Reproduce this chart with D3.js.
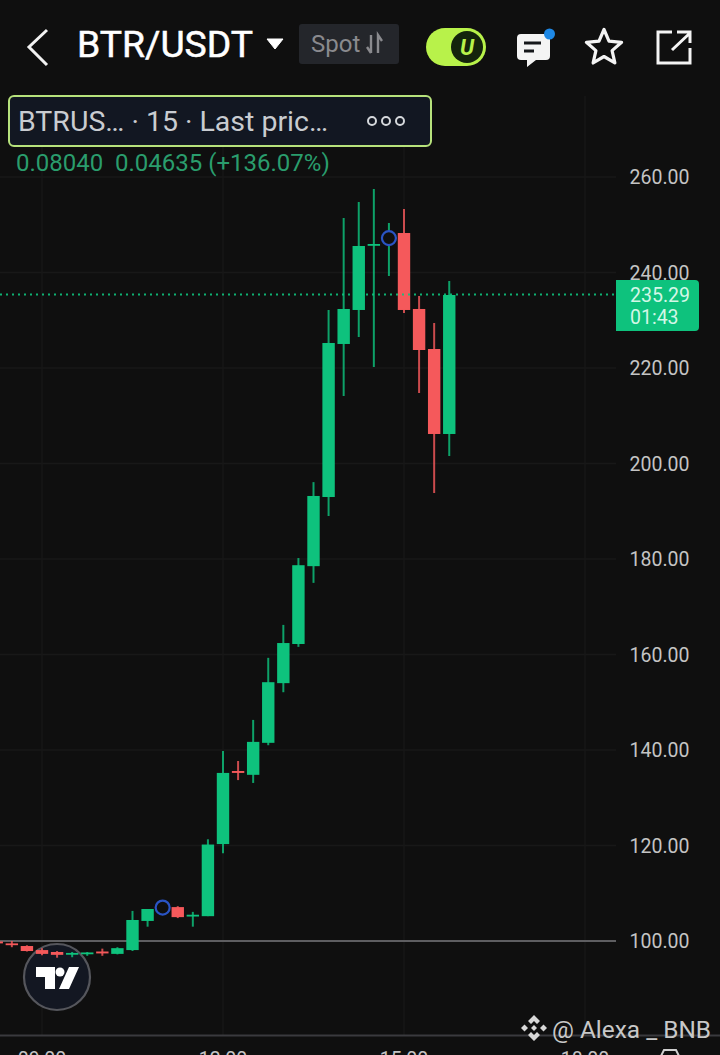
<!DOCTYPE html>
<html><head><meta charset="utf-8">
<script src="https://cdn.jsdelivr.net/npm/d3@7/dist/d3.min.js"></script>
<style>html,body{margin:0;padding:0;background:#0f0f0f;overflow:hidden}svg{display:block}text{font-family:Roboto,sans-serif}</style>
</head><body><svg id="c" width="720" height="1055"></svg>
<script>
const slots = d3.range(-3, 28);
const opens  = [99.9,99.5,98.95,98.1,97.7,97.2,97.4,97.8,97.3,98.1,104.2,107.0,107.1,105.2,105.2,120.3,135.6,134.8,141.5,154.0,162.2,178.5,192.98,225.03,232.15,245.7,247.0,248.27,232.36,223.98,206.18];
const closes = [99.5,99.2,97.9,97.3,97.1,97.5,97.6,97.4,98.5,104.4,106.7,107.3,105.0,105.5,120.2,135.2,135.2,141.7,154.2,162.4,178.7,193.2,225.24,232.36,245.55,245.97,247.4,232.15,223.77,206.18,235.29];
const highs  = [100.2,100.0,99.1,98.5,97.9,97.7,97.7,98.4,98.7,106.3,106.7,107.5,107.3,106.1,121.3,139.8,137.7,146.3,159.3,166.2,180.2,196.1,232.15,251.41,254.77,257.49,250.37,253.3,235.08,229.42,238.22];
const lows   = [99.0,98.7,97.8,97.0,96.5,96.6,96.9,96.9,97.2,97.9,103.0,106.8,104.8,103.0,105.2,118.4,133.7,133.1,141.0,152.1,161.6,175.0,189.0,214.14,226.49,220.21,239.27,231.5,214.76,193.82,201.57];
const priceTicks = [100,120,140,160,180,200,220,240,260];
const timeSlots = [0,12,24,36];
const timeLabels = ["09:00","12:00","15:00","18:00"];
const lastPrice = 235.29, basePrice = 100;
const markerSlots = [8,23];
const markerPrices = [107,247.2];

const up="#0ec27d", down="#f5595b", bg="#0f0f0f";
const svg=d3.select("#c");
svg.append("rect").attr("width",720).attr("height",1055).attr("fill",bg);
const y=d3.scaleLinear().domain([100,260]).range([941,177]);
const x=d3.scaleLinear().domain([0,36]).range([42,585]);
const W=616;
svg.append("g").selectAll("line").data(priceTicks).join("line").attr("x1",0).attr("x2",W).attr("y1",d=>y(d)).attr("y2",d=>y(d)).attr("stroke","#181818").attr("stroke-width",1.5);
svg.append("g").selectAll("line").data(timeSlots).join("line").attr("x1",d=>x(d)).attr("x2",d=>x(d)).attr("y1",96).attr("y2",1035).attr("stroke","#171717").attr("stroke-width",1.5);
svg.append("line").attr("x1",0).attr("x2",720).attr("y1",1035.5).attr("y2",1035.5).attr("stroke","#3a3a3e").attr("stroke-width",2);
svg.append("g").selectAll("text").data(priceTicks).join("text").attr("x",659.5).attr("y",d=>y(d)+7).attr("text-anchor","middle").attr("font-size",19.5).attr("fill","#c4c4c4").text(d=>d.toFixed(2));
svg.append("g").selectAll("text").data(timeSlots).join("text").attr("x",d=>x(d)).attr("y",1066).attr("text-anchor","middle").attr("font-size",19.5).attr("fill","#c4c4c4").text((d,i)=>timeLabels[i]);
svg.append("path").attr("d","M659 1060L664 1050H676L681 1060").attr("fill","none").attr("stroke","#d0d0d0").attr("stroke-width",2);
svg.append("circle").attr("cx",57).attr("cy",977).attr("r",33).attr("fill","#131722").attr("stroke","#55565c").attr("stroke-width",2.2);
svg.append("path").attr("d","M36 967H55V989H45V977H36Z").attr("fill","#fff");
svg.append("circle").attr("cx",60).attr("cy",972).attr("r",4.5).attr("fill","#fff");
svg.append("path").attr("d","M69 967H79L69 989H59Z").attr("fill","#fff");
svg.append("line").attr("x1",0).attr("x2",W).attr("y1",y(basePrice)).attr("y2",y(basePrice)).attr("stroke","#77777b").attr("stroke-width",1.6);
const idx=d3.range(slots.length);
const col=i=>closes[i]>=opens[i]?up:down;
svg.append("g").selectAll("line").data(idx).join("line").attr("x1",i=>x(slots[i])).attr("x2",i=>x(slots[i])).attr("y1",i=>y(highs[i])).attr("y2",i=>y(lows[i])).attr("stroke",i=>col(i)).attr("stroke-opacity",.82).attr("stroke-width",2);
svg.append("g").selectAll("rect").data(idx).join("rect").attr("x",i=>x(slots[i])-6.2).attr("width",12.4).attr("y",i=>y(Math.max(opens[i],closes[i]))).attr("height",i=>Math.max(1.8,Math.abs(y(opens[i])-y(closes[i])))).attr("fill",i=>col(i));
svg.append("line").attr("x1",0).attr("x2",W).attr("y1",y(lastPrice)-0.5).attr("y2",y(lastPrice)-0.5).attr("stroke",up).attr("stroke-opacity",.9).attr("stroke-width",2).attr("stroke-dasharray","2 4");
svg.append("path").attr("d","M616 280H695Q699 280 699 284V327Q699 331 695 331H616Z").attr("fill",up);
svg.append("text").attr("x",630).attr("y",302).attr("font-size",19.5).attr("fill","#d3f7e7").text(lastPrice.toFixed(2));
svg.append("text").attr("x",630).attr("y",324).attr("font-size",19.5).attr("fill","#d3f7e7").text("01:43");
svg.append("g").selectAll("circle").data(markerSlots).join("circle").attr("cx",d=>x(d)).attr("cy",(d,i)=>y(markerPrices[i])).attr("r",7).attr("fill",bg).attr("stroke","#2a54c4").attr("stroke-width",2.2);
svg.append("path").attr("d","M47 30L29 47L47 65").attr("fill","none").attr("stroke","#f2f2f2").attr("stroke-width",3);
svg.append("text").attr("x",77).attr("y",57).attr("font-size",37).attr("font-weight",400).attr("fill","#fff").attr("stroke","#fff").attr("stroke-width",0.5).attr("textLength",176).attr("lengthAdjust","spacingAndGlyphs").text("BTR/USDT");
svg.append("path").attr("d","M267 39H283L275 49Z").attr("fill","#fff").attr("stroke","#fff").attr("stroke-linejoin","round");
svg.append("rect").attr("x",299).attr("y",24).attr("width",100).attr("height",40).attr("rx",3).attr("fill","#24262b");
svg.append("text").attr("x",311).attr("y",52).attr("font-size",24).attr("fill","#8a8a8e").text("Spot");
svg.append("path").attr("d","M371 35V53M367 47L371 53M378 53V35L382 41").attr("fill","none").attr("stroke","#8a8a8e").attr("stroke-width",2.4);
svg.append("rect").attr("x",426).attr("y",28).attr("width",60).attr("height",38).attr("rx",19).attr("fill","#b8f24a");
svg.append("circle").attr("cx",467).attr("cy",47).attr("r",16).attr("fill","#14240c");
svg.append("text").attr("x",467).attr("y",55).attr("text-anchor","middle").attr("font-size",22).attr("font-weight",700).attr("font-style","italic").attr("fill","#b8f24a").text("U");
svg.append("path").attr("d","M521 34H546Q550 34 550 38V56Q550 60 546 60H536L527 67V60H521Q517 60 517 56V38Q517 34 521 34Z").attr("fill","#f4f4f4");
svg.append("path").attr("d","M524 43H541M524 51H534").attr("stroke","#15171a").attr("stroke-width",3);
svg.append("circle").attr("cx",549.5).attr("cy",34).attr("r",5.5).attr("fill","#1e88e5");
const star=d3.range(10).map(i=>{const r=i%2?8.5:18.5,a=-Math.PI/2+i*Math.PI/5;return [604+r*Math.cos(a),48+r*Math.sin(a)]});
svg.append("path").attr("d",d3.line().curve(d3.curveLinearClosed)(star)).attr("fill","none").attr("stroke","#f4f4f4").attr("stroke-width",3.2).attr("stroke-linejoin","round");
svg.append("path").attr("d","M672 32H658V63H690V48").attr("fill","none").attr("stroke","#f4f4f4").attr("stroke-width",3);
svg.append("path").attr("d","M672 50L690 33M677 32H690V43").attr("fill","none").attr("stroke","#f4f4f4").attr("stroke-width",3);
svg.append("rect").attr("x",9).attr("y",96).attr("width",422).attr("height",50).attr("rx",5).attr("fill","#121722").attr("stroke","#b7e27c").attr("stroke-width",2);
svg.append("text").attr("x",18).attr("y",131).attr("font-size",28).attr("fill","#c9ccd1").attr("textLength",310).attr("lengthAdjust","spacingAndGlyphs").text("BTRUS… · 15 · Last pric…");
svg.append("g").selectAll("circle").data([372,386,400]).join("circle").attr("cx",d=>d).attr("cy",121).attr("r",4).attr("fill","none").attr("stroke","#d5d8dc").attr("stroke-width",2);
svg.append("text").attr("x",16).attr("y",171).attr("font-size",24).attr("fill","#2a9d6d").text("0.08040");
svg.append("text").attr("x",115).attr("y",171).attr("font-size",24).attr("fill","#2a9d6d").text("0.04635 (+136.07%)");
svg.append("g").attr("transform","translate(534,1028)").selectAll("path").data(["M0 -13L6 -7L3 -4L0 -7L-3 -4L-6 -7Z","M0 13L6 7L3 4L0 7L-3 4L-6 7Z","M-13 0L-9.5 -3.5L-6 0L-9.5 3.5Z","M13 0L9.5 -3.5L6 0L9.5 3.5Z","M0 -3L3 0L0 3L-3 0Z"]).join("path").attr("d",d=>d).attr("fill","#d8d8d8");
svg.append("text").attr("x",552).attr("y",1038).attr("font-family","Noto Sans").attr("font-size",23).attr("fill","#c8c8c8").attr("textLength",159).attr("lengthAdjust","spacingAndGlyphs").text("@ Alexa _ BNB");
</script></body></html>
